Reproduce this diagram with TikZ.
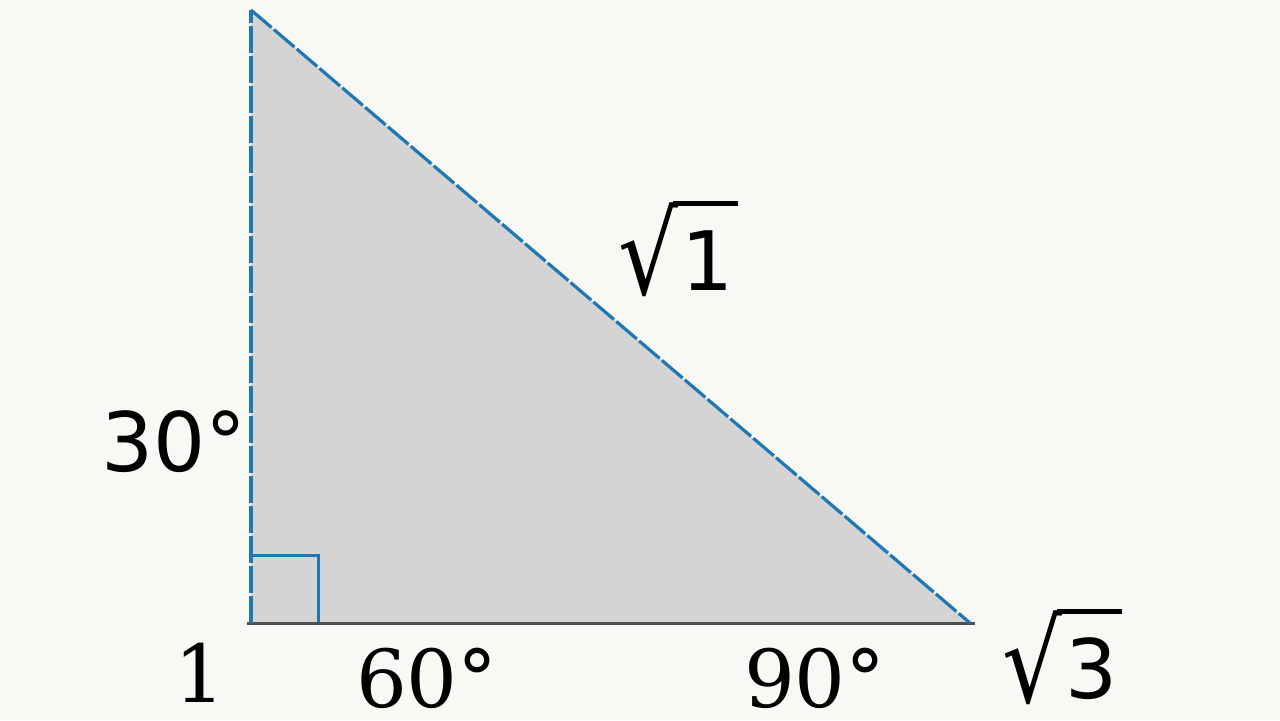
\documentclass[tikz,border=0pt]{standalone}
\usepackage{fontspec}
\setmainfont{DejaVu Sans}
\newfontfamily\serifdigits{DejaVu Serif}
\definecolor{bg}{HTML}{F8F8F4}
\definecolor{tri}{HTML}{D4D4D4}
\definecolor{edge}{HTML}{1F77B4}
\definecolor{base}{HTML}{505050}
\newcommand\mysqrt[1]{\setbox0\hbox{#1}\mbox{\raisebox{-0.06em}{\scalebox{1.15}[1.38]{√}}\kern-0.07em\rlap{\rule[1.03em]{\dimexpr\wd0+0.16em\relax}{0.05em}}\kern0.1em\box0}}
\begin{document}
\begin{tikzpicture}[x=0.5pt,y=-0.5pt,
  lbl/.style={font=\fontsize{41}{41}\selectfont, inner sep=0pt, text=black, anchor=base},
  slbl/.style={font=\fontsize{40}{40}\selectfont\serifdigits, inner sep=0pt, text=black, anchor=base},
  blueedge/.style={draw=edge, line width=1.6pt, dash pattern=on 13.5pt off 1.5pt},
  baseedge/.style={draw=base, line width=1.5pt}]
\fill[bg] (0,0) rectangle (1280,720);
\useasboundingbox (0,0) rectangle (1280,720);
\coordinate (A) at (251,10);
\coordinate (C) at (251,623);
\coordinate (B) at (970,623);
\fill[tri] (A) -- (C) -- (B) -- cycle;
\draw[draw=edge, line width=1.5pt] (251,555) -- (318,555) -- (318,623);
\draw[baseedge] (247,623) -- (975,623);
\draw[blueedge] (C) -- (A);
\draw[blueedge] (A) -- (B);
\node[lbl] (h) at (676,290) {\mysqrt{1}};
\node[lbl] (a30) at (174,471) {30°};
\node[slbl] (one) at (200,702) {1};
\node[slbl] (a60) at (427,707) {60°};
\node[slbl] (a90) at (815,707) {90°};
\node[lbl] (s3) at (1060,698) {\mysqrt{3}};
\end{tikzpicture}
\end{document}
